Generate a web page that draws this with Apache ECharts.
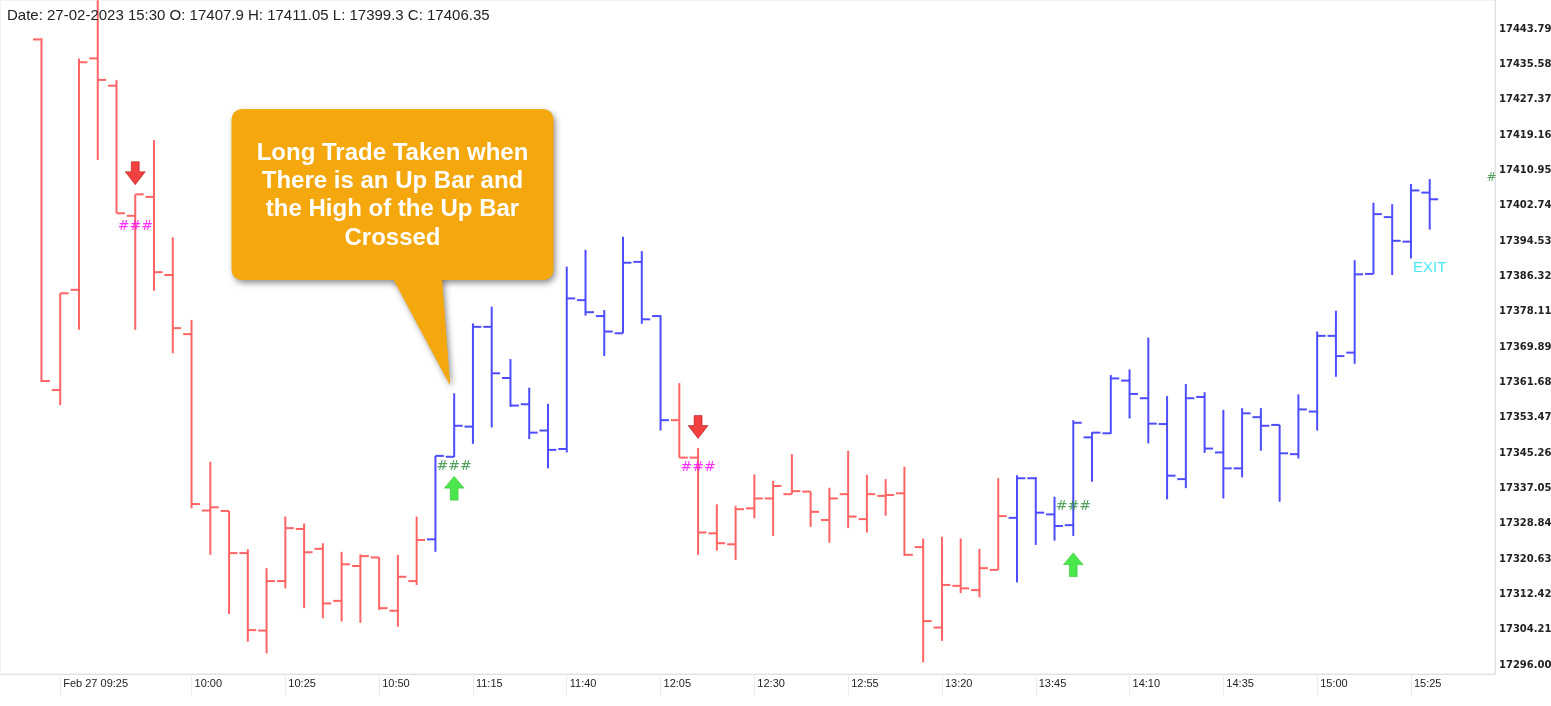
<!DOCTYPE html>
<html>
<head>
<meta charset="utf-8">
<script src="https://cdn.jsdelivr.net/npm/echarts@6/dist/echarts.min.js"></script>
<style>
html,body{margin:0;padding:0;background:#fff;}
#chart{width:1551px;height:706px;}
</style>
</head>
<body>
<div id="chart"></div>
<script>
// ---- DATA (5-minute bars, 27-02-2023, bar end times) ----
const times = ['09:20','09:25','09:30','09:35','09:40','09:45','09:50','09:55','10:00','10:05',
'10:10','10:15','10:20','10:25','10:30','10:35','10:40','10:45','10:50','10:55',
'11:00','11:05','11:10','11:15','11:20','11:25','11:30','11:35','11:40','11:45',
'11:50','11:55','12:00','12:05','12:10','12:15','12:20','12:25','12:30','12:35',
'12:40','12:45','12:50','12:55','13:00','13:05','13:10','13:15','13:20','13:25',
'13:30','13:35','13:40','13:45','13:50','13:55','14:00','14:05','14:10','14:15',
'14:20','14:25','14:30','14:35','14:40','14:45','14:50','14:55','15:00','15:05',
'15:10','15:15','15:20','15:25','15:30'];
const opens = [17443.5,17362.0,17385.3,17439.1,17432.75,17402.5,17406.9,17388.75,17375.0,17334.0,
17333.9,17324.1,17306.1,17317.6,17329.7,17325.1,17313.0,17321.1,17323.1,17310.7,
17317.6,17327.3,17346.5,17353.5,17376.7,17364.8,17358.7,17352.6,17348.3,17382.9,
17379.2,17375.2,17391.8,17379.2,17355.0,17346.3,17328.7,17326.15,17334.5,17336.8,
17337.8,17338.4,17331.8,17337.8,17332.0,17337.4,17338.0,17325.5,17306.8,17316.5,
17315.5,17320.2,17332.3,17341.5,17333.1,17330.6,17351.0,17351.95,17364.2,17360.1,
17354.1,17341.3,17360.4,17347.5,17343.8,17355.7,17353.9,17347.1,17357.0,17374.6,
17370.7,17389.0,17402.2,17396.5,17407.9];
const highs = [17443.8,17384.5,17439.1,17452.6,17434.1,17407.5,17420.1,17397.5,17378.3,17345.35,
17333.9,17325.0,17320.6,17332.6,17331.0,17326.4,17324.4,17323.8,17323.1,17323.7,
17332.6,17346.7,17361.25,17377.5,17381.4,17369.2,17362.55,17358.8,17390.7,17394.6,
17380.6,17397.65,17394.3,17379.4,17363.6,17348.5,17335.45,17335.1,17342.4,17340.9,
17347.1,17338.4,17339.3,17347.9,17342.3,17341.3,17344.2,17327.5,17327.9,17327.5,
17325.1,17341.5,17342.2,17341.8,17337.2,17355.0,17352.2,17365.5,17366.8,17374.2,
17360.6,17363.4,17361.5,17357.4,17357.8,17357.8,17353.9,17361.0,17375.6,17380.45,
17392.2,17405.55,17405.2,17409.9,17411.05];
const lows = [17363.9,17358.5,17376.0,17415.5,17403.1,17376.0,17385.1,17370.55,17334.5,17323.7,
17309.95,17303.5,17300.8,17315.9,17311.3,17308.95,17308.2,17307.9,17310.9,17307.0,
17316.7,17324.4,17346.4,17349.5,17353.3,17358.1,17350.6,17343.8,17347.5,17379.3,
17369.9,17375.2,17377.4,17352.6,17346.3,17323.7,17324.7,17322.5,17332.2,17328.1,
17337.8,17330.2,17326.5,17329.9,17328.9,17332.8,17323.5,17298.7,17303.7,17314.8,
17313.8,17320.2,17317.3,17326.0,17327.0,17328.1,17340.7,17351.8,17355.4,17349.6,
17336.6,17339.2,17347.4,17336.8,17341.7,17347.9,17336.05,17346.1,17352.6,17365.1,
17368.1,17389.0,17388.75,17392.6,17399.3];
const closes = [17364.1,17384.5,17438.2,17434.1,17403.1,17407.5,17389.4,17376.4,17335.5,17334.75,
17324.1,17306.2,17317.6,17329.9,17324.3,17312.4,17321.5,17323.4,17311.3,17318.6,
17327.15,17346.7,17353.7,17376.7,17365.9,17358.4,17352.1,17348.1,17383.3,17380.1,
17375.6,17391.6,17378.45,17355.0,17346.3,17328.9,17326.4,17334.3,17336.8,17339.7,
17338.5,17333.7,17336.8,17332.6,17337.8,17337.6,17323.7,17308.3,17316.7,17315.9,
17320.6,17332.7,17341.5,17333.5,17330.4,17354.4,17352.1,17364.7,17361.1,17354.2,
17342.1,17360.1,17348.4,17343.8,17356.6,17353.7,17347.3,17357.5,17374.6,17369.9,
17388.9,17402.9,17396.7,17408.4,17406.35];
// 0 = short / down state (red), 1 = long state (blue)
const trend = [0,0,0,0,0,0,0,0,0,0, 0,0,0,0,0,0,0,0,0,0,
0,1,1,1,1,1,1,1,1,1, 1,1,1,1,0,0,0,0,0,0,
0,0,0,0,0,0,0,0,0,0, 0,0,1,1,1,1,1,1,1,1,
1,1,1,1,1,1,1,1,1,1, 1,1,1,1,1];

// signals: [bar index, price]
const sellArrows = [[5, 17412.4], [35, 17353.4]];
const buyArrows  = [[22, 17339.2], [55, 17321.4]];
const sellHashes = [[5, 17400.0], [35, 17344.0]];
const buyHashes  = [[22, 17344.35], [55, 17335.05]];
const edgeHash   = [[77.3, 17411.4]];
const exits      = [[74, 17390.5]];

// axis ticks
const yTickLabels = ['17296.00','17304.21','17312.42','17320.63','17328.84','17337.05','17345.26',
'17353.47','17361.68','17369.89','17378.11','17386.32','17394.53','17402.74','17410.95',
'17419.16','17427.37','17435.58','17443.79'];
const xTickIdx = [1, 8, 13, 18, 23, 28, 33, 38, 43, 48, 53, 58, 63, 68, 73];
const xTickLabels = ['Feb 27 09:25','10:00','10:25','10:50','11:15','11:40','12:05','12:30',
'12:55','13:20','13:45','14:10','14:35','15:00','15:25'];
const headerText = 'Date: 27-02-2023 15:30 O: 17407.9 H: 17411.05 L: 17399.3 C: 17406.35';
const calloutText = 'Long Trade Taken when\nThere is an Up Bar and\nthe High of the Up Bar\nCrossed';

// ---- CHART ----
const RED = '#ff6464', BLUE = '#4d4dff';
const Y_MIN = 17296, Y_MAX = 17452.67;
const LABEL_LIFT = 2.09; // price labels are drawn just above their level
const yTickValues = yTickLabels.map(Number);
const yLabelPos = yTickValues.map(v => v + LABEL_LIFT);

const ohlc = times.map((t, i) => [i, opens[i], highs[i], lows[i], closes[i], trend[i]]);

function renderBar(params, api) {
  const i = api.value(0);
  const o = api.coord([i, api.value(1)]);
  const h = api.coord([i, api.value(2)]);
  const l = api.coord([i, api.value(3)]);
  const c = api.coord([i, api.value(4)]);
  const w = api.size([1, 0])[0] * 0.45;
  const col = api.value(5) ? BLUE : RED;
  const st = {stroke: col, lineWidth: 2};
  return {type: 'group', children: [
    {type: 'line', shape: {x1: h[0], y1: h[1], x2: l[0], y2: l[1]}, style: st},
    {type: 'line', shape: {x1: o[0] - w, y1: o[1], x2: o[0], y2: o[1]}, style: st},
    {type: 'line', shape: {x1: c[0], y1: c[1], x2: c[0] + w, y2: c[1]}, style: st}
  ]};
}

const downArrow = 'path://M6,0 L14,0 L14,10 L20,10 L10,23 L0,10 L6,10 Z';
const upArrow = 'path://M10,0 L20,12 L14,12 L14,24 L6,24 L6,12 L0,12 Z';

function textSeries(data, text, color, font, size) {
  return {
    type: 'scatter', data: data, symbolSize: 1, itemStyle: {color: 'rgba(0,0,0,0)'},
    z: 5, silent: true,
    label: {show: true, position: 'inside', formatter: text, color: color,
      fontFamily: font, fontSize: size}
  };
}

function yLabel(v) {
  let best = -1, d = 1e9;
  yLabelPos.forEach((p, k) => { if (Math.abs(p - v) < d) { d = Math.abs(p - v); best = k; } });
  return d < 0.01 ? yTickLabels[best] : '';
}

const ORANGE = '#f5a80e';
const shadow = {shadowBlur: 6, shadowColor: 'rgba(0,0,0,0.45)', shadowOffsetX: 2, shadowOffsetY: 3};
const boxShape = {x: 231.7, y: 109.3, width: 321.6, height: 170.7, r: 10};
const tipShape = {points: [[391.7, 276], [441.7, 276], [450, 385]]};

const chart = echarts.init(document.getElementById('chart'), null, {renderer: 'canvas'});
chart.setOption({
  animation: false,
  backgroundColor: '#ffffff',
  grid: {left: 0, right: 56, top: 0, bottom: 32, containLabel: false, outerBoundsMode: 'none',
    show: true, borderColor: '#e6e6e6', borderWidth: 1},
  xAxis: {
    type: 'value', min: -2.21, max: 77.48,
    axisLine: {show: true, onZero: false, lineStyle: {color: '#e0e0e0'}},
    splitLine: {show: false},
    axisTick: {show: true, customValues: xTickIdx, length: 22, lineStyle: {color: '#ececec'}},
    axisLabel: {customValues: xTickIdx, align: 'left', margin: 4, padding: [0, 0, 0, 3],
      fontFamily: 'Liberation Sans', fontSize: 11, color: '#222',
      formatter: v => xTickLabels[xTickIdx.indexOf(Math.round(v))] || ''}
  },
  yAxis: {
    type: 'value', position: 'right', min: Y_MIN, max: Y_MAX, scale: true,
    axisLine: {show: true, onZero: false, lineStyle: {color: '#e0e0e0'}},
    axisTick: {show: false}, splitLine: {show: false},
    axisLabel: {show: true, customValues: yLabelPos, margin: 4, align: 'left',
      verticalAlign: 'middle',
      fontFamily: 'DejaVu Sans', fontWeight: 'bold', fontSize: 10, color: '#222',
      formatter: yLabel}
  },
  series: [
    {type: 'custom', name: 'OHLC', data: ohlc, renderItem: renderBar, clip: true,
      encode: {x: 0, y: [1, 2, 3, 4]}, z: 2},
    {type: 'scatter', data: sellArrows, symbol: downArrow, symbolSize: [20, 23], z: 6,
      itemStyle: {color: '#ee1111', borderColor: '#a00000', borderWidth: 0.6}},
    {type: 'scatter', data: buyArrows, symbol: upArrow, symbolSize: [20, 24], z: 6,
      itemStyle: {color: '#1ee01e', borderColor: '#14a014', borderWidth: 0.4}},
    textSeries(sellHashes, '###', '#ff00ff', 'DejaVu Sans', 14),
    textSeries(buyHashes, '###', '#2a8a3a', 'DejaVu Sans', 14),
    textSeries(edgeHash, '#', '#2a8a3a', 'DejaVu Sans', 12),
    textSeries(exits, 'EXIT', '#1de4f0', 'Liberation Sans', 15)
  ],
  graphic: [
    {type: 'text', x: 7, y: 8, z: 10,
      style: {text: headerText, fill: '#222', font: '15px "Liberation Sans"'}},
    {type: 'rect', z: 20, shape: boxShape, style: Object.assign({fill: ORANGE}, shadow)},
    {type: 'polygon', z: 20, shape: tipShape, style: Object.assign({fill: ORANGE}, shadow)},
    {type: 'rect', z: 21, shape: boxShape, style: {fill: ORANGE}},
    {type: 'polygon', z: 21, shape: tipShape, style: {fill: ORANGE}},
    {type: 'text', z: 22, x: 392.5, y: 195.5,
      style: {text: calloutText, fill: '#ffffff', align: 'center', verticalAlign: 'middle',
        font: 'bold 24px "Liberation Sans"', lineHeight: 28.3}}
  ]
});
</script>
</body>
</html>
